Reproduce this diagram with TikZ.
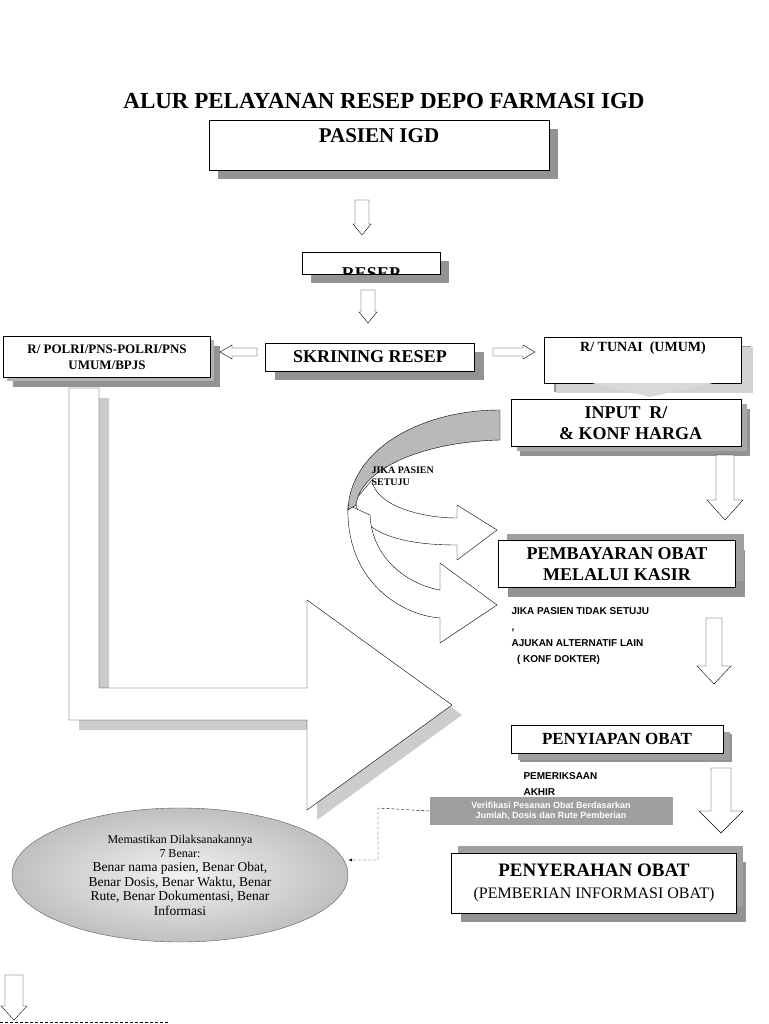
\documentclass[tikz,border=0pt]{standalone}
\usepackage{fontspec}
\setmainfont{Liberation Serif}[BoldFont={Liberation Serif Bold}]
\newfontfamily\sansf{Liberation Sans}
\usetikzlibrary{shapes.geometric,shadows}

\tikzset{
  box/.style={draw, fill=white, align=center, font=\bfseries,
    drop shadow={shadow xshift=9pt, shadow yshift=-9pt, fill=gray!85, opacity=1}},
  hollow/.style={draw, fill=white},
  small/.style={font=\sansf\bfseries\fontsize{10}{16}\selectfont, align=left, anchor=west}
}
\newcommand{\fs}[1]{\fontsize{#1}{1.2\dimexpr#1pt\relax}\selectfont}
% down arrow: x, ytop, ybottom, shaft half, head half, head length
\newcommand{\downarr}[6]{%
  \draw[hollow] (#1-#4,#2) -- (#1+#4,#2) -- (#1+#4,#3-#6) -- (#1+#5,#3-#6) -- (#1,#3)
    -- (#1-#5,#3-#6) -- (#1-#4,#3-#6) -- cycle;}
% side arrow: y, xtail, xtip, shaft half, head half, x where head starts
\newcommand{\sidearr}[6]{%
  \draw[hollow] (#2,#1-#4) -- (#6,#1-#4) -- (#6,#1-#5) -- (#3,#1) -- (#6,#1+#5)
    -- (#6,#1+#4) -- (#2,#1+#4) -- cycle;}

\begin{document}
\begin{tikzpicture}[x=1pt, y=-1pt]
  \useasboundingbox (0,0) rectangle (768,1024);

  \node (title) at (384,101) {\bfseries\fs{23}ALUR PELAYANAN RESEP DEPO FARMASI IGD};

  % main column
  \node[box, minimum width=340pt, minimum height=50pt] (pasien) at (379,145) {\fs{21}PASIEN IGD\\[6pt]};
  \downarr{362}{200}{235}{7}{9}{11}
  \begin{scope}
    \node[box, minimum width=138pt, minimum height=22pt] (resep) at (371,263) {};
    \clip (302,252) rectangle (440,274);
    \node at (371,274) {\bfseries\fs{18}RESEP};
  \end{scope}
  \downarr{368}{290}{323}{7}{9}{11}
  \node[box, minimum width=209pt, minimum height=28pt] (skrin) at (370,357) {\fs{18}SKRINING RESEP};

  \node[box, minimum width=207pt, minimum height=41pt, font=\bfseries\fs{13},
    drop shadow={shadow xshift=3pt, shadow yshift=-3pt, fill=gray!60, opacity=1}] (polri) at (107,357)
    {R/ POLRI/PNS-POLRI/PNS\\UMUM/BPJS};
  \sidearr{352}{257}{220}{4}{7}{232}
  \sidearr{352}{493}{535}{4}{7}{523}
  \node[box, minimum width=197pt, minimum height=46pt, font=\bfseries\fs{14},
    drop shadow={shadow xshift=11pt, shadow yshift=-10pt, fill=gray!35, opacity=1}] (tunai) at (643,360)
    {R/ TUNAI\ \ (UMUM)\\[10pt]};
  \fill[gray!30] (592,383) -- (713,383) -- (650,397) -- cycle;

  \node[box, minimum width=230pt, minimum height=47pt, font=\bfseries\fs{18},
    drop shadow={shadow xshift=6pt, shadow yshift=-4pt, fill=gray!70, opacity=1}] (input) at (626,423)
    {INPUT\ \ R/\\\ \ \& KONF HARGA};
  \downarr{725}{455}{520}{9}{18}{20}

  % curved arrows
  \draw[fill=white] (355,500) .. controls (360,540) and (420,545) .. (457,545)
    -- (457,560) -- (497,530) -- (457,505) -- (457,518)
    .. controls (420,518) and (375,505) .. (372,480) -- cycle;
  \draw[fill=white] (348,505) .. controls (345,580) and (400,615) .. (440,618)
    -- (440,643) -- (497,605) -- (440,563) -- (440,590)
    .. controls (410,585) and (372,560) .. (370,515) -- cycle;
  \draw[fill=gray!55] (500,410) .. controls (420,410) and (350,450) .. (348,510)
    -- (356,505) .. controls (360,470) and (420,442) .. (500,440) -- cycle;
  \node[font=\bfseries\fs{10}, align=left, anchor=west] (setuju) at (368,476) {JIKA PASIEN\\SETUJU};

  \node[box, minimum width=237pt, minimum height=47pt, font=\bfseries\fs{18},
    drop shadow={shadow xshift=8pt, shadow yshift=7pt, fill=gray!75, opacity=1}] (bayar) at (617,564)
    {PEMBAYARAN OBAT\\MELALUI KASIR};
  \node[small] (tidak) at (508,636) {JIKA PASIEN TIDAK SETUJU\\,\\AJUKAN ALTERNATIF LAIN\\\ \ ( KONF DOKTER)};
  \downarr{714}{618}{684}{8}{17}{18}

  % big arrow
  \draw[fill=gray!40, draw=none] (79,398) -- (109,398) -- (109,698) -- (317,698) -- (317,610)
    -- (462,715) -- (317,820) -- (317,730) -- (79,730) -- cycle;
  \draw[fill=white] (69,388) -- (99,388) -- (99,688) -- (307,688) -- (307,600)
    -- (452,705) -- (307,810) -- (307,720) -- (69,720) -- cycle;

  \node[box, minimum width=212pt, minimum height=28pt, font=\bfseries\fs{17},
    drop shadow={shadow xshift=7pt, shadow yshift=-7pt, fill=gray!75, opacity=1}] (siap) at (617,739) {PENYIAPAN OBAT};
  \node[small] (periksa) at (520,784) {PEMERIKSAAN\\AKHIR};
  \node[fill=gray!75, minimum width=243pt, minimum height=28pt, align=center,
    text=white, font=\sansf\bfseries\fs{9}] (verif) at (551,811)
    {Verifikasi Pesanan Obat Berdasarkan\\Jumlah, Dosis dan Rute Pemberian};
  \downarr{721}{768}{833}{10}{22}{22}

  \node[ellipse, draw=gray!70!black, minimum width=336pt, minimum height=134pt,
    inner color=gray!10, outer color=gray!50, align=center, font=\fs{12}] (benar) at (180,875)
    {Memastikan Dilaksanakannya\\7 Benar:\\\fs{13.5}Benar nama pasien, Benar Obat,\\\fs{13.5}Benar Dosis, Benar Waktu, Benar\\\fs{13.5}Rute, Benar Dokumentasi, Benar\\\fs{13.5}Informasi};
  \draw[densely dashed, -latex] (verif.west) -- (378,808) -- (378,860) -- (benar.east |- 0,860);

  \node[box, minimum width=285pt, minimum height=60pt, font=\bfseries\fs{19},
    drop shadow={shadow xshift=6pt, shadow yshift=7pt, fill=gray!75, opacity=1}] (serah) at (594,883)
    {PENYERAHAN OBAT\\\mdseries\fs{16}(PEMBERIAN INFORMASI OBAT)};

  \downarr{14}{975}{1020}{9}{13}{14}
  \coordinate (d1) at (0,1022);
  \coordinate (d2) at (168,1022);
  \draw[densely dashed] (d1) -- (d2);
\end{tikzpicture}
\end{document}
